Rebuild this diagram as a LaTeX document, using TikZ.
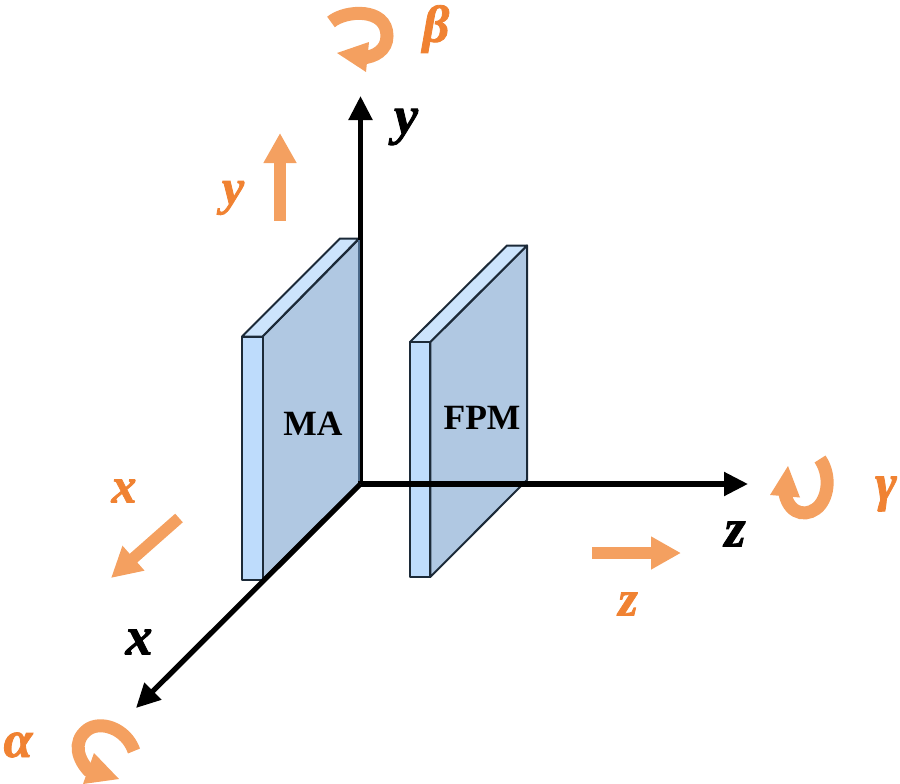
\documentclass[tikz,border=0pt]{standalone}
\usepackage{fontspec}
\setmainfont{Liberation Serif}
\newfontfamily\heavyitalic{Liberation Serif Bold Italic}[FakeBold=1.6]
\usetikzlibrary{arrows.meta}
\definecolor{facec}{HTML}{B0C8E2}
\definecolor{topc}{HTML}{CCE4FC}
\definecolor{frontc}{HTML}{BEDCFC}
\definecolor{edgec}{HTML}{1C2A38}
\definecolor{arrowc}{HTML}{F4A060}
\definecolor{labelc}{HTML}{F08232}
\definecolor{stripc}{HTML}{4A6888}
\tikzset{
  x=1pt,y=-1pt,
  plate/.style={draw=edgec,line width=2pt,line join=round},
  axisline/.style={draw=black,line width=5.2pt,-{Triangle[length=24pt,width=23pt]},shorten >=0pt},
  movearrow/.style={draw=arrowc,line width=11.5pt,-{Triangle[length=30pt,width=31pt]}},
  turnarc/.style={draw=arrowc,line width=13pt},
  turnhead/.style={fill=arrowc},
  blacklabel/.style={font=\fontsize{54}{54}\selectfont\heavyitalic,text=black,inner sep=0pt},
  orangelabel/.style={font=\fontsize{50}{50}\selectfont\heavyitalic,text=labelc,inner sep=0pt},
  greeklabel/.style={font=\fontsize{52}{52}\selectfont\heavyitalic,text=labelc,inner sep=0pt},
  platelabel/.style={font=\fontsize{35.5}{35.5}\selectfont\bfseries,text=black,inner sep=0pt}
}
\begin{document}
\begin{tikzpicture}
\useasboundingbox (0,0) rectangle (900,784);
% MA plate
\draw[plate,fill=facec] (262.5,336.5) -- (359,239) -- (359,484) -- (262.5,580) -- cycle;
\draw[plate,fill=topc] (242,336.5) -- (340,238.5) -- (359,238.5) -- (262.5,336.5) -- cycle;
\draw[plate,fill=frontc] (242,336.5) rectangle (262.5,580);
% FPM plate
\draw[plate,fill=facec] (430.3,342) -- (527,245.5) -- (527,480) -- (521,486) -- (430.3,577) -- cycle;
\draw[plate,fill=topc] (410,342) -- (507,245.5) -- (527,245.5) -- (430.3,342) -- cycle;
\draw[plate,fill=frontc] (410,342) rectangle (430.3,577);
% axes
\coordinate (origin) at (360.5,484);
\coordinate (yend) at (360.5,96);
\coordinate (zend) at (748,484);
\coordinate (xend) at (136,708);
\draw[axisline] (origin) -- (yend);
\draw[axisline] (origin) -- (zend);
\draw[axisline] (origin) -- (xend);
\fill[stripc] (358,240) rectangle (360,481);
% straight motion arrows
\coordinate (ya) at (280,221); \coordinate (yb) at (280,133);
\coordinate (xa) at (179,518); \coordinate (xb) at (111,578);
\coordinate (za) at (592,553); \coordinate (zb) at (681,553);
\draw[movearrow] (ya) -- (yb);
\draw[movearrow] (xa) -- (xb);
\draw[movearrow] (za) -- (zb);
% beta
\draw[turnarc] (331,22) .. controls (345,10) and (387,7) .. (387,36) .. controls (387,50) and (375,57) .. (362,58);
\fill[turnhead] (337,53) -- (369,42) -- (366,72) -- cycle;
% alpha
\draw[turnarc] (134,751) .. controls (126,728) and (100,720) .. (87,730) .. controls (72,742) and (78,760) .. (90,772);
\fill[turnhead] (94,753) -- (119,779) -- (83,784) -- cycle;
% gamma
\draw[turnarc] (820,459) .. controls (829,472) and (830,492) .. (820,505) .. controls (810,517) and (790,517) .. (785,494);
\fill[turnhead] (788,466) -- (800,497.5) -- (770,495) -- cycle;
% labels
\node[platelabel] (ma) at (313,424) {MA};
\node[platelabel] (fpm) at (482,418) {FPM};
\node[blacklabel] (ly) at (406,127) {y};
\node[blacklabel] (lz) at (735,534) {z};
\node[blacklabel] (lx) at (139,642) {x};
\node[orangelabel] (oy) at (233,198) {y};
\node[orangelabel] (ox) at (124,491) {x};
\node[orangelabel] (oz) at (628,604) {z};
\node[greeklabel] (beta) at (436,29) {β};
\node[greeklabel] (alpha) at (18,745) {α};
\node[greeklabel] (gamma) at (886,494) {γ};
\end{tikzpicture}
\end{document}
